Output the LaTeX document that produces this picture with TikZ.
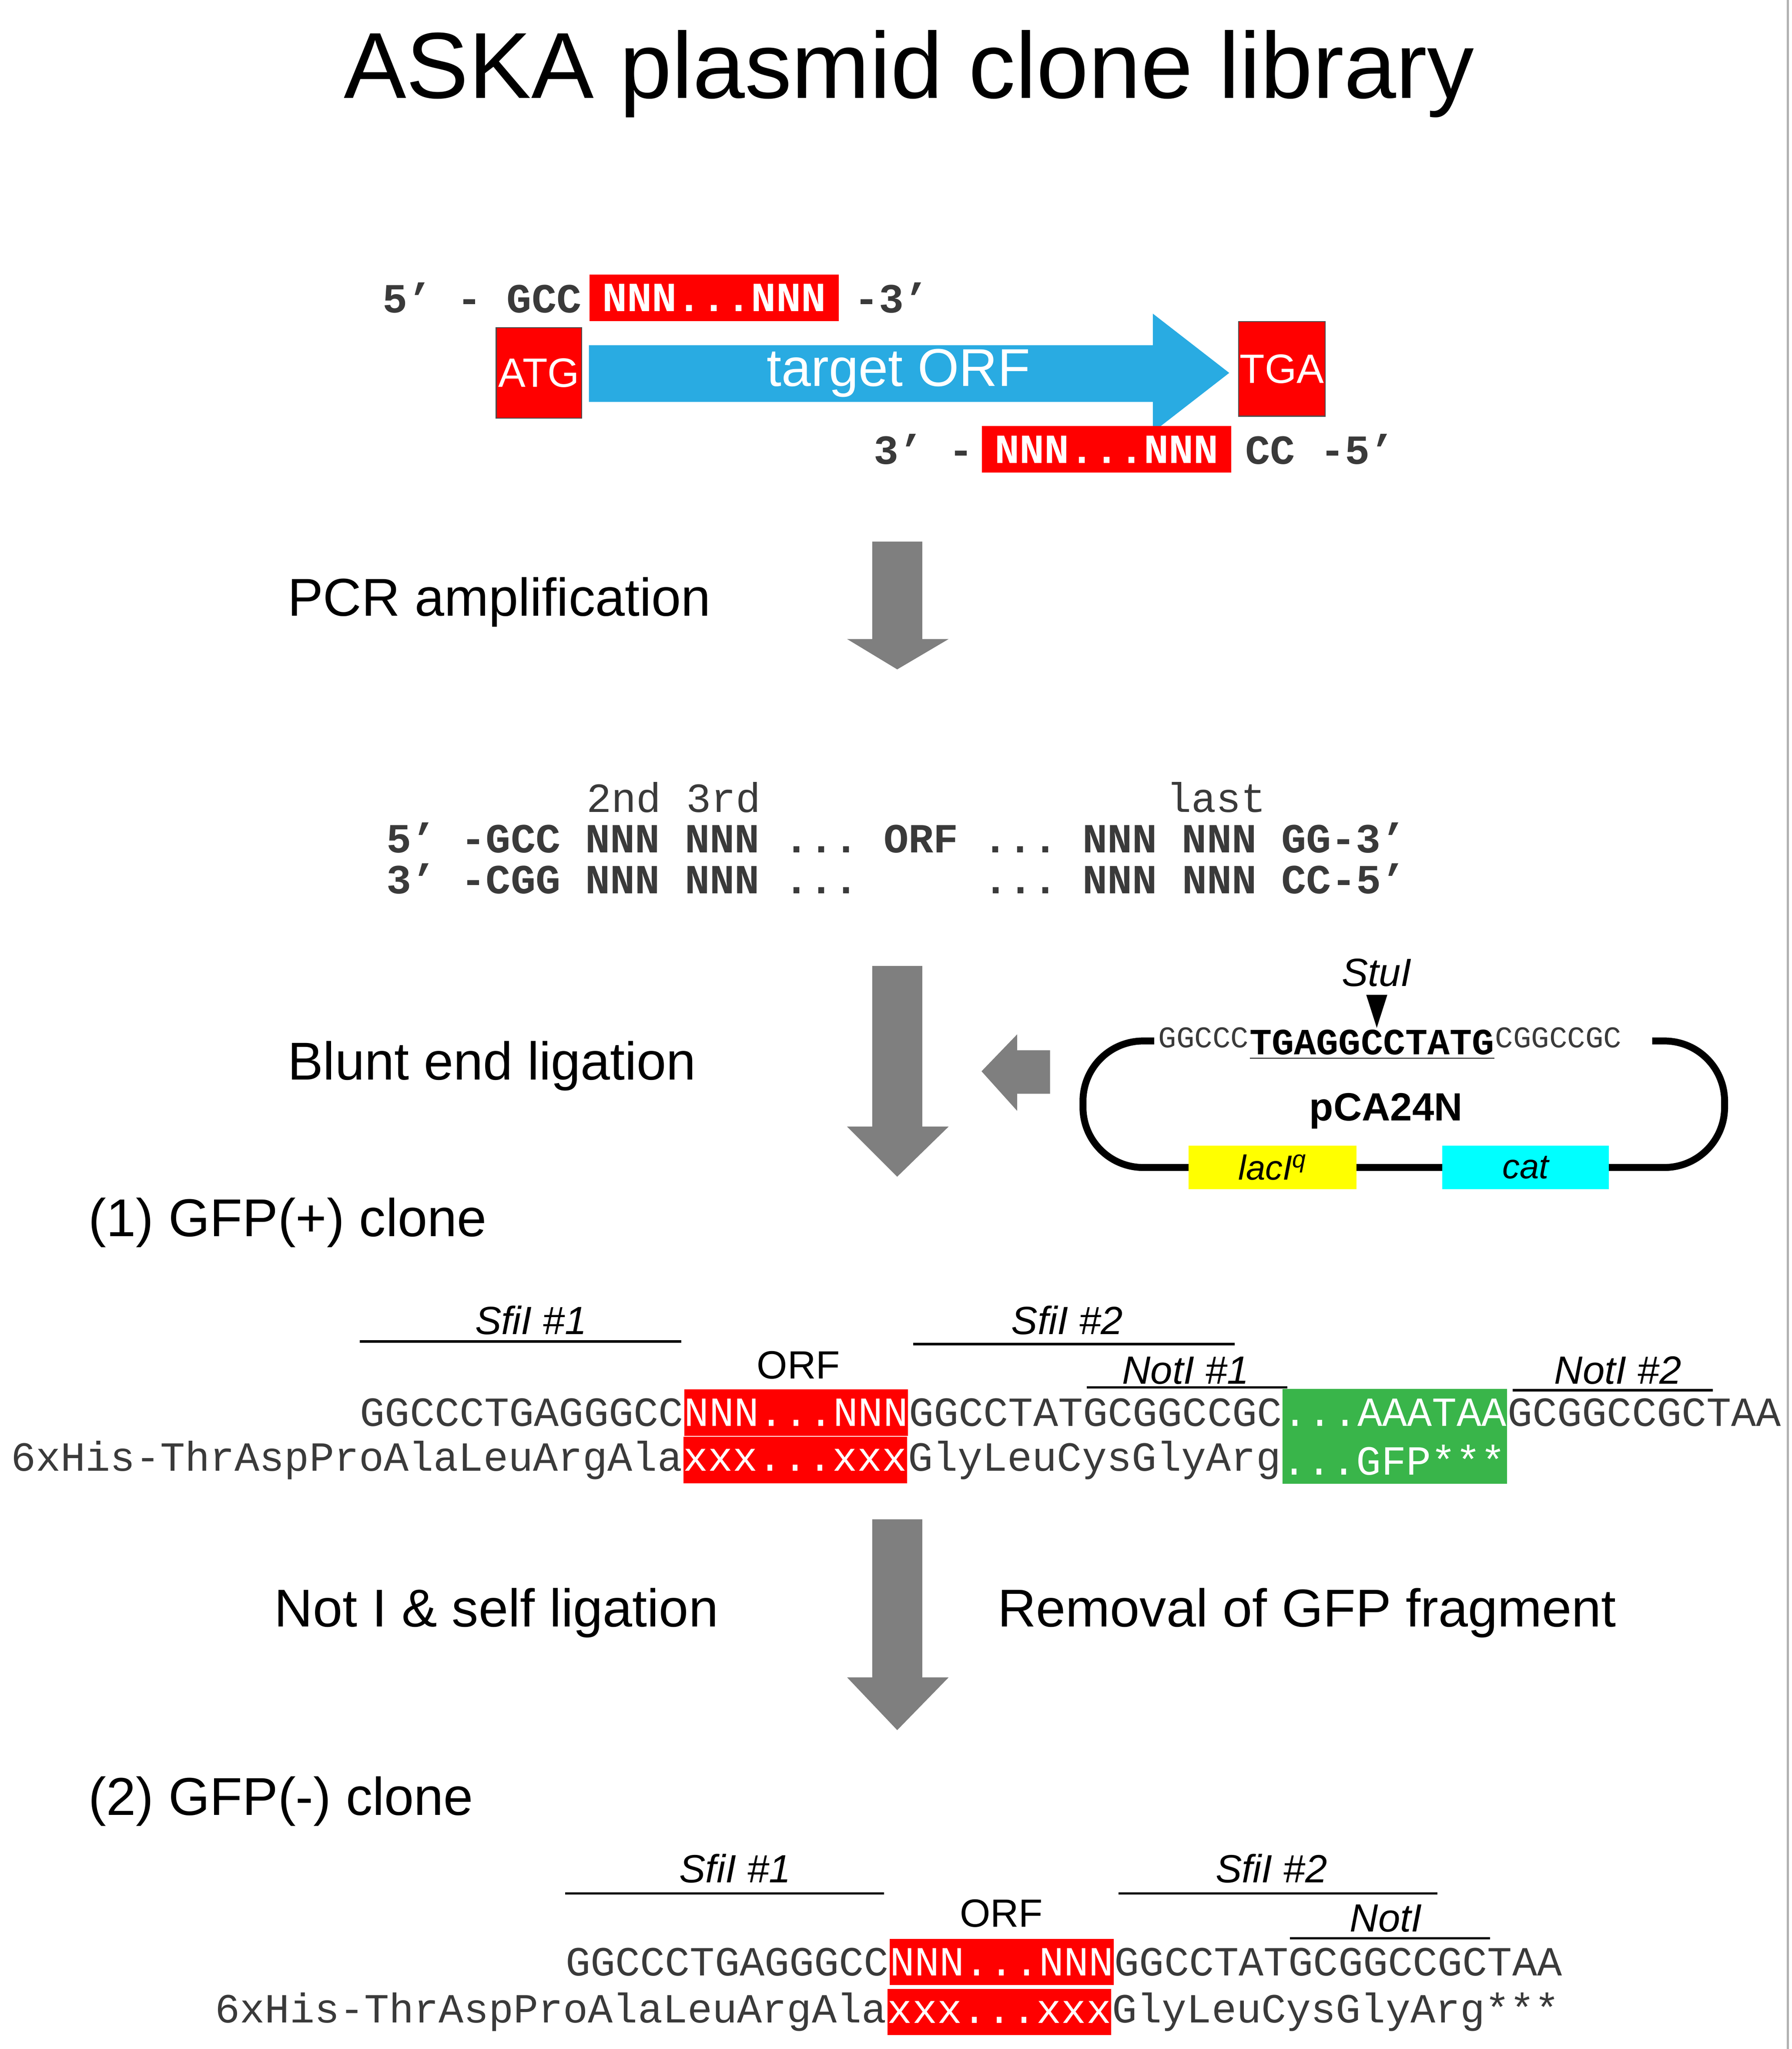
\documentclass[tikz,border=0pt]{standalone}
\usepackage{fontspec}
\setmainfont{Liberation Sans}
\setmonofont{Liberation Mono}
\usetikzlibrary{backgrounds}
\definecolor{myred}{HTML}{FF0000}
\definecolor{ablue}{HTML}{29ABE2}
\definecolor{agray}{HTML}{7F7F7F}
\definecolor{sgray}{HTML}{3A3A3A}
\definecolor{mygreen}{HTML}{39B54A}
\definecolor{myyellow}{HTML}{FFFF00}
\definecolor{mycyan}{HTML}{00FFFF}
\newcommand\fz[1]{\fontsize{#1}{#1}\selectfont}
\begin{document}
\begin{tikzpicture}[x=0.02cm,y=-0.02cm,
 seq/.style={font=\fz{17.9}\ttfamily, inner sep=0pt, text=sgray, minimum height=20pt, anchor=west},
 bseq/.style={seq,font=\fz{17.9}\ttfamily\bfseries},
 rbox/.style={fill=myred,text=white},
 lab/.style={font=\fz{23}, text=black, inner sep=0pt, anchor=west},
 site/.style={font=\fz{17}\itshape, inner sep=0pt},
 siteline/.style={line width=1pt},
 garrow/.style={fill=agray}]
\useasboundingbox (0,0) rectangle (1360,1555);
\draw[agray!60,line width=1pt] (1357,0) -- (1357,1555);
% title
\node[font=\fz{40.5},inner sep=0pt] (title) at (690,56) {ASKA plasmid clone library};
% top primer
\node[bseq] (p1) at (290,226) {5’~-~GCC};
\node[bseq,rbox,minimum width=190*0.567pt,minimum height=20pt,anchor=west] (p2) at (447,226) {NNN...NNN};
\node[bseq] (p3) at (648,226) {-3’};
\fill[ablue] (447,262) -- (875,262) -- (875,238) -- (933,283) -- (875,328) -- (875,305) -- (447,305) -- cycle;
\node[font=\fz{23},text=white] (orf) at (682,283) {target ORF};
\node[draw=black!70,fill=myred,text=white,font=\fz{17.7},minimum width=65*0.567pt,minimum height=69*0.567pt,inner sep=0pt] (atg) at (409,283) {ATG};
\node[draw=black!70,fill=myred,text=white,font=\fz{17.7},minimum width=66*0.567pt,minimum height=72*0.567pt,inner sep=0pt] (tga) at (973,280) {TGA};
\node[bseq] (q1) at (663,341) {3’~-};
\node[bseq,rbox,minimum width=190*0.567pt,anchor=west] (q2) at (745,341) {NNN...NNN};
\node[bseq] (q3) at (945,341) {CC~-5’};
% arrow 1
\fill[garrow] (662,411) -- (700,411) -- (700,485) -- (720,485) -- (681,508) -- (643,485) -- (662,485) -- cycle;
\node[lab] (pcr) at (218,457) {PCR amplification};
% middle sequences
\node[seq] (l1) at (445,605) {2nd~3rd};
\node[seq] (l2) at (885,605) {last};
\node[bseq] (m1) at (293,636) {5’~-GCC~NNN~NNN~...~ORF~...~NNN~NNN~GG-3’};
\node[bseq] (m2) at (293,667) {3’~-CGG~NNN~NNN~...~~~~~...~NNN~NNN~CC-5’};
% arrow 2
\fill[garrow] (662,733) -- (700,733) -- (700,855) -- (720,855) -- (681,893) -- (643,855) -- (662,855) -- cycle;
\node[lab] (blunt) at (218,809) {Blunt end ligation};
\fill[garrow] (745,813) -- (772,785) -- (772,797) -- (797,797) -- (797,830) -- (772,830) -- (772,843) -- cycle;
% plasmid
\node[inner sep=0pt,anchor=base west,font=\fz{13}\ttfamily,text=sgray] (s1) at (879,795) {GGCCC};
\node[inner sep=0pt,anchor=base west,font=\fz{16}\ttfamily\bfseries,text=black] (s2) at ([yshift=-3pt]s1.base east) {\underline{TGAGGCCTATG}};
\node[inner sep=0pt,anchor=base west,font=\fz{13}\ttfamily,text=sgray] (s3) at ([yshift=3pt]s2.base east) {CGGCCGC};
\draw[line width=3pt,rounded corners=26pt] (876,790) -- (822,790) -- (822,886) -- (1309,886) -- (1309,790) -- (1254,790);
\node[fill=myyellow,minimum width=128*0.567pt,minimum height=33*0.567pt,inner sep=0pt,font=\fz{15}\itshape] (laci) at (966,886) {lacI\textsuperscript{q}};
\node[fill=mycyan,minimum width=127*0.567pt,minimum height=33*0.567pt,inner sep=0pt,font=\fz{15}\itshape] (cat) at (1158,886) {cat};
\node[site] (stu) at (1045,738) {StuI};
\fill (1037,755) -- (1053,755) -- (1045,780) -- cycle;
\node[font=\fz{17}\bfseries,inner sep=0pt] (pca) at (1052,843) {pCA24N};
% (1)
\node[lab] (gfpp) at (67,928) {(1) GFP(+) clone};
\node[site] (sf1) at (403,1002) {SfiI \#1};
\draw[siteline] (273,1018) -- (517,1018);
\node[site] (sf2) at (810,1002) {SfiI \#2};
\draw[siteline] (693,1020) -- (937,1020);
\node[font=\fz{17},inner sep=0pt] (orf1) at (606,1036) {ORF};
\node[site] (nt1) at (900,1040) {NotI \#1};
\draw[siteline] (825,1053) -- (977,1053);
\node[site] (nt2) at (1228,1040) {NotI \#2};
\draw[siteline] (1148,1055) -- (1300,1055);
\node[seq] (a1) at (273,1072) {GGCCCTGAGGGCC};
\node[seq,rbox] (a2) at (a1.east) {NNN...NNN};
\node[seq] (a3) at (a2.east) {GGCCTATGCGGCCGC};
\node[seq,text=white] (a4) at (a3.east) {...AAATAA};
\node[seq] (a5) at (a4.east) {GCGGCCGCTAA};
\node[seq] (b1) at (8,1108) {6xHis-ThrAspProAlaLeuArgAla};
\node[seq,rbox] (b2) at (b1.east) {xxx...xxx};
\node[seq] (b3) at (b2.east) {GlyLeuCysGlyArg};
\node[seq,text=white] (b4) at (b3.east) {...GFP***};
\begin{scope}[on background layer]
\fill[mygreen] (a4.north west) rectangle (a4.east |- b4.south);
\end{scope}
% arrow 3
\fill[garrow] (662,1153) -- (700,1153) -- (700,1273) -- (720,1273) -- (681,1313) -- (643,1273) -- (662,1273) -- cycle;
\node[lab] (noti) at (208,1224) {Not I \& self ligation};
\node[lab] (rem) at (757,1224) {Removal of GFP fragment};
% (2)
\node[lab] (gfpm) at (67,1367) {(2) GFP(-) clone};
\node[site] (sf3) at (558,1418) {SfiI \#1};
\draw[siteline] (429,1437) -- (671,1437);
\node[site] (sf4) at (965,1418) {SfiI \#2};
\draw[siteline] (849,1437) -- (1091,1437);
\node[font=\fz{17},inner sep=0pt] (orf2) at (760,1452) {ORF};
\node[site] (nt3) at (1052,1456) {NotI};
\draw[siteline] (979,1471) -- (1131,1471);
\node[seq] (c1) at (429,1489) {GGCCCTGAGGGCC};
\node[seq,rbox] (c2) at (c1.east) {NNN...NNN};
\node[seq] (c3) at (c2.east) {GGCCTATGCGGCCGCTAA};
\node[seq] (d1) at (163,1527) {6xHis-ThrAspProAlaLeuArgAla};
\node[seq,rbox] (d2) at (d1.east) {xxx...xxx};
\node[seq] (d3) at (d2.east) {GlyLeuCysGlyArg***};
\end{tikzpicture}
\end{document}
